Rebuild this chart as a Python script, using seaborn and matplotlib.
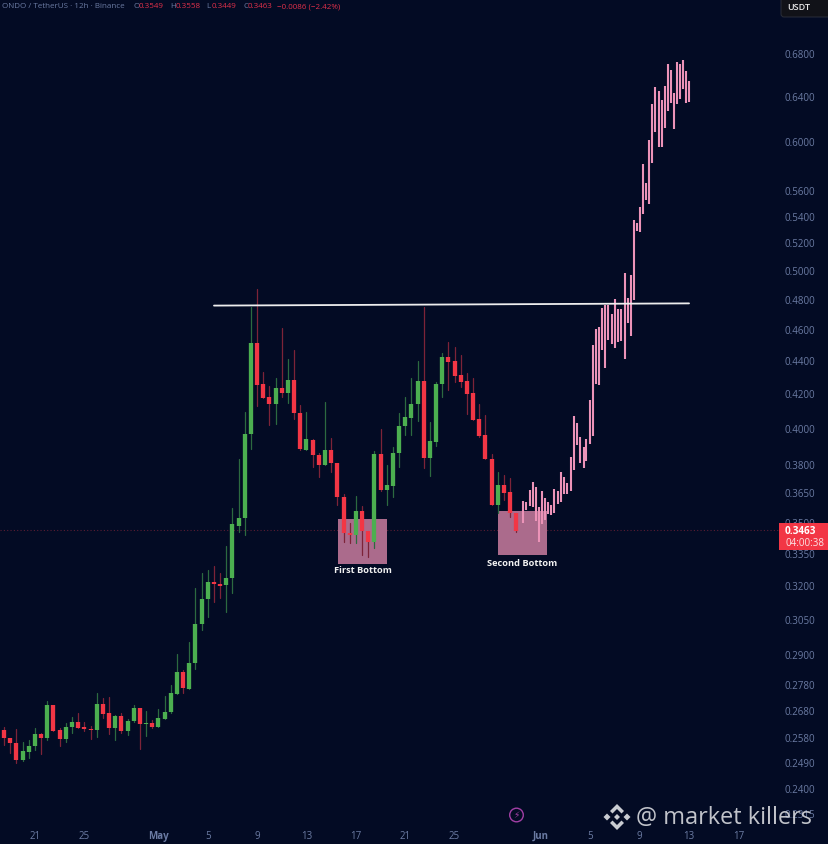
import numpy as np
import pandas as pd
import matplotlib
matplotlib.use("Agg")
import matplotlib.pyplot as plt
import matplotlib.transforms as mtransforms
from matplotlib.patches import Rectangle, Circle, Polygon, FancyBboxPatch
import seaborn as sns

# 12h candles, first one sits 6 bars before Apr 21
opens = [.2703,.2609,.258,.2563,.2499,.253,.2552,.2595,.258,.2703,.2609,.2575,.262,.2639,.2619,.2614,.2609,.2707,.2672,.2617,.2663,
         .2604,.2641,.2691,.2631,.2634,.2621,.2651,.2675,.2746,.2834,.2766,.287,.3032,.314,.3219,.321,.3204,.3235,.3485,.3525,.3967,.4515,
         .4258,.4181,.4143,.4238,.4206,.4284,.409,.388,.3937,.3851,.3798,.388,.3809,.3631,.3448,.344,.356,.3458,.3404,.3859,.3666,
         .3687,.3865,.4014,.4061,.4139,.4276,.3838,.3926,.4262,.4424,.4399,.4313,.4276,.4206,.4052,.3965,.3832,.3587,.369,.3656,.3547]
highs = [.2711,.262,.258,.2613,.2565,.2572,.2617,.2598,.2719,.2704,.2617,.2635,.2658,.2673,.264,.2624,.275,.273,.2734,.2665,.2673,
         .265,.2703,.2693,.268,.2646,.2688,.2738,.2781,.2905,.2841,.2956,.3189,.3261,.3273,.3292,.3258,.3386,.3574,.3831,.4094,.4753,.4872,
         .4333,.4248,.4295,.4612,.4412,.447,.4135,.4093,.3939,.3862,.4155,.3945,.3809,.3645,.3498,.3635,.3585,.3458,.3876,.3997,.3797,
         .3895,.4087,.4181,.4295,.4403,.4753,.4035,.4274,.445,.4523,.4491,.4439,.4329,.4295,.4141,.4075,.3858,.3759,.3745,.3727,.3547]
lows = [.2602,.2554,.2525,.2491,.2497,.2509,.2536,.2522,.2572,.2605,.2551,.2565,.2598,.2617,.2604,.2577,.2583,.2655,.2595,.2573,.2598,
        .259,.2638,.2541,.2588,.2615,.2619,.265,.2674,.2744,.2748,.2765,.2843,.3006,.3061,.3127,.3147,.3085,.3167,.3456,.344,.3884,
        .4129,.4178,.4018,.4027,.4184,.4145,.4056,.3878,.388,.3786,.3736,.3798,.3761,.3589,.3407,.3401,.3401,.3342,.3333,.3375,.3662,
        .3589,.3631,.3786,.3961,.3963,.4044,.3784,.3739,.3903,.4181,.4224,.4274,.4244,.4083,.405,.395,.3829,.3587,.3547,.3614,.353,.3456]
closes = [.2609,.2579,.2561,.2501,.2534,.2552,.2595,.2579,.2703,.2607,.2575,.2621,.2639,.2617,.2613,.2609,.2707,.2669,.2618,.2663,.2605,
          .2643,.2691,.2631,.2635,.262,.2654,.2678,.2751,.2834,.2768,.287,.3033,.314,.3219,.3207,.3201,.3236,.3494,.3523,.3967,.4515,
          .4254,.4178,.4141,.4238,.4208,.4284,.4089,.3884,.3939,.3851,.38,.388,.3809,.363,.3448,.344,.356,.3459,.3404,.3859,.3666,.3692,
          .3865,.4016,.4067,.4141,.4276,.3838,.3928,.4262,.4424,.4395,.4309,.4274,.4202,.405,.3959,.3829,.3587,.369,.3652,.3547,.3461]

# pink high/low bars after the last candle
pink_x = [79.09,79.58,80.18,80.66,81.15,81.64,82.22,82.71,83.19,83.68,84.17,84.72,85.25,85.74,86.22,86.82,87.31,87.84,88.33,88.93,89.35,
          89.9,90.39,90.88,91.41,91.9,92.38,92.92,93.52,94.0,94.49,94.98,95.58,96.06,96.55,97.08,97.57,98.1,98.59,99.08,99.56,100.05,100.53,
          101.13,101.57,102.06,102.56,103.03,103.52,104.05,104.54,105.02,105.56,106.05]
pink_high = [.3608,.3604,.3666,.3706,.3683,.358,.3659,.3623,.3604,.3589,.3673,.3659,.3762,.3736,.3701,.3843,.4071,.4033,.3954,.3898,.3942,
             .4165,.4504,.4605,.4617,.4745,.4767,.4765,.4706,.4803,.4736,.4736,.4989,.4812,.4973,.5375,.5354,.5472,.5816,.5666,.6022,.6332,.6487,
             .6455,.6371,.6501,.6701,.6645,.6432,.6723,.6704,.674,.6641,.6542]
pink_low = [.3497,.3564,.3584,.358,.351,.3407,.3494,.3513,.3543,.3538,.3547,.3592,.3606,.3645,.3645,.3659,.3771,.3907,.3811,.378,.382,
            .3911,.3958,.4262,.4256,.4469,.436,.4536,.4509,.4485,.4523,.453,.4412,.4643,.4558,.4801,.5289,.5286,.5423,.5529,.5496,.5824,.6088,
            .5958,.5958,.6126,.6275,.6341,.6112,.6332,.6377,.6471,.6341,.6356]

y_ticks = [.68,.64,.60,.56,.54,.52,.50,.48,.46,.44,.42,.40,.38,.365,.35,.335,.32,.305,.29,.278,.268,.258,.249,.24,.2315]
x_tick_pos = [0,8,20,28,36,44,52,60,68,82,90,98,106,114]
x_tick_labels = ["21","25","May","5","9","13","17","21","25","Jun","5","9","13","17"]

neck_x = [29.01, 106.0]
neck_y = [.4761, .4776]
last_price = 0.3463
bottoms = [("First Bottom", 49.11, 57.05, .3301, .3518, .3269),
           ("Second Bottom", 75.04, 82.93, .3343, .356, .3303)]

BG = "#030b24"
AXIS = "#6b7ba3"
sns.set_theme(style="dark", rc={"axes.facecolor": BG, "figure.facecolor": BG, "axes.grid": False})
plt.rcParams["font.family"] = ["Open Sans", "DejaVu Sans"]

fig = plt.figure(figsize=(8.29, 8.44), dpi=100)
ax = fig.add_axes([0, 16 / 844, 779 / 829, 828 / 844])
ax.set_yscale("log")

candles = pd.DataFrame({"bar": np.arange(-6, 79), "open": opens, "high": highs, "low": lows, "close": closes})
candles["side"] = np.where(candles["close"] >= candles["open"], "up", "down")
wicks = candles.melt(id_vars=["bar", "side"], value_vars=["high", "low"], value_name="price")
bodies = candles.melt(id_vars=["bar", "side"], value_vars=["open", "close"], value_name="price")
pink = pd.DataFrame({"id": range(len(pink_x)), "x": pink_x, "high": pink_high, "low": pink_low})
pink = pink.melt(id_vars=["id", "x"], value_vars=["high", "low"], value_name="price")

# boxes sit under the candles
for name, x0, x1, lo, hi, label_y in bottoms:
    ax.fill_between([x0, x1], lo, hi, color="#ab6b8c", lw=0, zorder=2)
    ax.text((x0 + x1) / 2, label_y, name, color="#f2f2f2", fontsize=6.7, fontweight="bold",
            ha="center", va="center", zorder=7)

ax.axhline(last_price, color="#5a1d33", lw=0.8, ls=(0, (1, 2)), zorder=1)

sns.lineplot(data=wicks, x="bar", y="price", hue="side", units="bar", estimator=None, sort=False,
             palette={"up": "#2c6a40", "down": "#7d2338"}, lw=0.9, legend=False, ax=ax, zorder=3)
sns.lineplot(data=bodies, x="bar", y="price", hue="side", units="bar", estimator=None, sort=False,
             palette={"up": "#4caf50", "down": "#f23645"}, lw=3.1, solid_capstyle="butt",
             legend=False, ax=ax, zorder=4)
sns.lineplot(data=pink, x="x", y="price", units="id", estimator=None, sort=False, color="#ec93b8",
             lw=1.5, solid_capstyle="butt", legend=False, ax=ax, zorder=5)
sns.lineplot(x=neck_x, y=neck_y, color="#eeeeee", lw=1.3, legend=False, ax=ax, zorder=6)

ax.set_xlim(-5.67, 120.58)
ax.set_ylim(.2271, .7341)
ax.set_xlabel("")
ax.set_ylabel("")
ax.yaxis.tick_right()
ax.yaxis.set_minor_locator(matplotlib.ticker.NullLocator())
ax.set_yticks(y_ticks, [f"{v:.4f}" for v in y_ticks])
ax.set_xticks(x_tick_pos, x_tick_labels)
ax.tick_params(axis="y", length=0, pad=4.3, labelsize=7, labelcolor=AXIS)
ax.tick_params(axis="x", length=0, pad=2, labelsize=7, labelcolor=AXIS)
for lab in ax.get_xticklabels():
    if lab.get_text() in ("May", "Jun"):
        lab.set_fontweight("bold")
for side in ax.spines.values():
    side.set_visible(False)

# everything around the plot is placed in screen pixels, top-down
pix = mtransforms.Affine2D().scale(1, -1).translate(0, 844)

header = [(2.5, "ONDO / TetherUS · 12h · Binance", AXIS), (133, "O", AXIS), (139, "0.3549", "#e0304a"),
          (170, "H", AXIS), (176, "0.3558", "#e0304a"), (206, "L", AXIS), (212, "0.3449", "#e0304a"),
          (243, "C", AXIS), (248, "0.3463", "#e0304a"), (277, "−0.0086 (−2.42%)", "#e0304a")]
for x, s, col in header:
    fig.text(x, 7, s, color=col, fontsize=5.8, va="center", transform=pix)

fig.add_artist(FancyBboxPatch((781, -4), 52, 21, boxstyle="round,pad=0,rounding_size=3", fc="#111218",
                              ec="#2a2e39", lw=0.7, transform=pix))
fig.text(787, 8, "USDT", color="#e8e8e8", fontsize=6.5, fontweight="semibold", va="center", transform=pix)

fig.add_artist(Rectangle((779, 523), 52, 27, fc="#f23645", ec="none", transform=pix))
fig.text(785, 531, f"{last_price:.4f}", color="white", fontsize=7.2, fontweight="bold", va="center", transform=pix)
fig.text(785, 543, "04:00:38", color="#fbe4e6", fontsize=7, va="center", transform=pix)

fig.add_artist(Circle((516.5, 815), 6.8, fc="none", ec="#a23fa5", lw=1, transform=pix))
fig.text(516.5, 815, "⚡", color="#a23fa5", fontsize=6.5, family="DejaVu Sans", ha="center", va="center", transform=pix)

# binance mark + watermark
LOGO = "#c9ccd2"
mark = [[(617, 804), (624, 811), (621.5, 813.5), (617, 809), (612.5, 813.5), (610, 811)],
        [(617, 830), (624, 823), (621.5, 820.5), (617, 825), (612.5, 820.5), (610, 823)],
        [(617, 814), (620, 817), (617, 820), (614, 817)],
        [(607, 813.5), (610.5, 817), (607, 820.5), (603.5, 817)],
        [(627, 813.5), (630.5, 817), (627, 820.5), (623.5, 817)]]
for pts in mark:
    fig.add_artist(Polygon(pts, closed=True, fc=LOGO, ec="none", transform=pix, zorder=9))
fig.text(636, 818, "@ market killers", color="#d2d4d9", alpha=0.92, fontsize=16.9, va="center", transform=pix, zorder=9)

fig.savefig("out.png", dpi=100, facecolor=BG)
